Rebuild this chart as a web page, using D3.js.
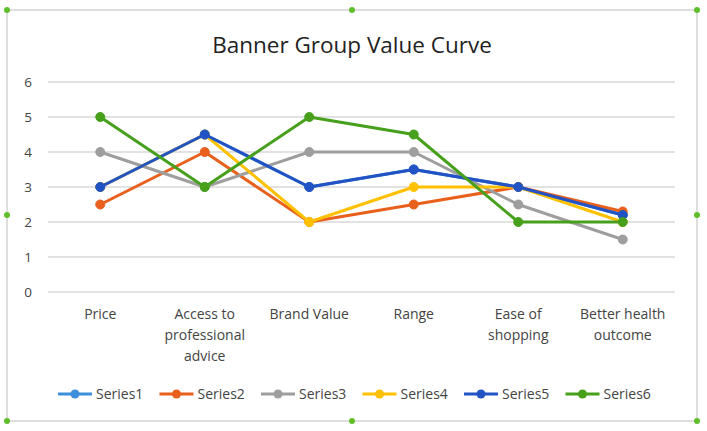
<!DOCTYPE html>
<html>
<head>
<meta charset="utf-8">
<script src="https://cdn.jsdelivr.net/npm/d3@7"></script>
<style>
  body { margin: 0; background: #fff; }
  text { font-family: "Open Sans", "Noto Sans", sans-serif; }
</style>
</head>
<body>
<div id="chart-area"></div>
<script>

// data
var categories = ["Price", "Access to professional advice", "Brand Value", "Range", "Ease of shopping", "Better health outcome"];
var catLines = [["Price"], ["Access to", "professional", "advice"], ["Brand Value"], ["Range"], ["Ease of", "shopping"], ["Better health", "outcome"]];
var seriesNames = ["Series1", "Series2", "Series3", "Series4", "Series5", "Series6"];
var series1 = [3, 4.5, 3, 3.5, 3, 2.2];
var series2 = [2.5, 4, 2, 2.5, 3, 2.3];
var series3 = [4, 3, 4, 4, 2.5, 1.5];
var series4 = [3, 4.5, 2, 3, 3, 2];
var series5 = [3, 4.5, 3, 3.5, 3, 2.2];
var series6 = [5, 3, 5, 4.5, 2, 2];
var yTicks = [0, 1, 2, 3, 4, 5, 6];

var colors = ["#3d8fd9", "#e8601c", "#9e9e9e", "#ffc000", "#2153c4", "#46a01c"];
var allSeries = [series1, series2, series3, series4, series5, series6];

var W = 707, H = 431;
var margin = { left: 48, right: 32, top: 82, bottom: 139 };
var width = W - margin.left - margin.right,
    height = H - margin.top - margin.bottom;

var svg = d3.select("#chart-area")
    .append("svg")
        .attr("width", W)
        .attr("height", H);

// selection frame + handles
svg.append("rect")
    .attr("x", 7).attr("y", 10)
    .attr("width", 690).attr("height", 411)
    .attr("fill", "none")
    .attr("stroke", "#d4d4d4")
    .attr("stroke-width", 1.5);

var handles = [[7, 10], [352, 10], [697, 10], [7, 215], [697, 215], [7, 421], [352, 421], [697, 421]];
svg.selectAll("circle.handle")
    .data(handles)
    .enter().append("circle")
        .attr("class", "handle")
        .attr("cx", function(d){ return d[0]; })
        .attr("cy", function(d){ return d[1]; })
        .attr("r", 3)
        .attr("fill", "#5fbf2a");

// title
svg.append("text")
    .attr("x", 352)
    .attr("y", 53)
    .attr("text-anchor", "middle")
    .attr("font-size", "22.5px")
    .attr("fill", "#222")
    .text("Banner Group Value Curve");

var g = svg.append("g")
    .attr("transform", "translate(" + margin.left + ", " + margin.top + ")");

// X Scale
var x = d3.scaleBand()
    .domain(categories)
    .range([0, width]);

// Y Scale
var y = d3.scaleLinear()
    .domain([0, 6])
    .range([height, 0]);

// gridlines
g.selectAll("line.grid")
    .data(yTicks)
    .enter().append("line")
        .attr("class", "grid")
        .attr("x1", 0).attr("x2", width)
        .attr("y1", function(d){ return y(d); })
        .attr("y2", function(d){ return y(d); })
        .attr("stroke", "#d9d9d9")
        .attr("stroke-width", 1.5);

// Y Axis labels
var yAxisCall = d3.axisLeft(y)
    .tickValues(yTicks)
    .tickSize(0)
    .tickPadding(16)
    .tickFormat(d3.format("d"));
var yAxis = g.append("g")
    .attr("class", "y axis")
    .call(yAxisCall);
yAxis.select(".domain").remove();
yAxis.selectAll("text")
    .attr("font-size", "13.5px")
    .attr("fill", "#444");

// X labels
var xl = g.selectAll("text.xlab")
    .data(categories)
    .enter().append("text")
        .attr("class", "xlab")
        .attr("x", function(d){ return x(d) + x.bandwidth() / 2; })
        .attr("y", height + 27)
        .attr("text-anchor", "middle")
        .attr("font-size", "14px")
        .attr("fill", "#444");
xl.each(function(d, i) {
    var t = d3.select(this);
    catLines[i].forEach(function(l, j) {
        t.append("tspan")
            .attr("x", x(d) + x.bandwidth() / 2)
            .attr("dy", j === 0 ? 0 : 21)
            .text(l);
    });
});

// lines
var line = d3.line()
    .x(function(d, i){ return x(categories[i]) + x.bandwidth() / 2; })
    .y(function(d){ return y(d); });

allSeries.forEach(function(s, k) {
    var sg = g.append("g").attr("class", "series");
    sg.append("path")
        .datum(s)
        .attr("d", line)
        .attr("fill", "none")
        .attr("stroke", colors[k])
        .attr("stroke-width", 3)
        .attr("stroke-linejoin", "round");
    sg.selectAll("circle")
        .data(s)
        .enter().append("circle")
            .attr("cx", function(d, i){ return x(categories[i]) + x.bandwidth() / 2; })
            .attr("cy", function(d){ return y(d); })
            .attr("r", 4.5)
            .attr("fill", colors[k])
            .attr("stroke", colors[k])
            .attr("stroke-width", 1);
});

// legend
var legend = svg.selectAll("g.legend")
    .data(seriesNames)
    .enter().append("g")
        .attr("class", "legend")
        .attr("transform", function(d, i){ return "translate(" + (58 + i * 101.5) + ", 394)"; });
legend.append("line")
    .attr("x1", 0).attr("x2", 34)
    .attr("y1", 0).attr("y2", 0)
    .attr("stroke", function(d, i){ return colors[i]; })
    .attr("stroke-width", 3);
legend.append("circle")
    .attr("cx", 17).attr("cy", 0)
    .attr("r", 4.5)
    .attr("fill", function(d, i){ return colors[i]; });
legend.append("text")
    .attr("x", 38)
    .attr("y", 5)
    .attr("font-size", "14px")
    .attr("fill", "#444")
    .text(function(d){ return d; });

</script>
</body>
</html>
